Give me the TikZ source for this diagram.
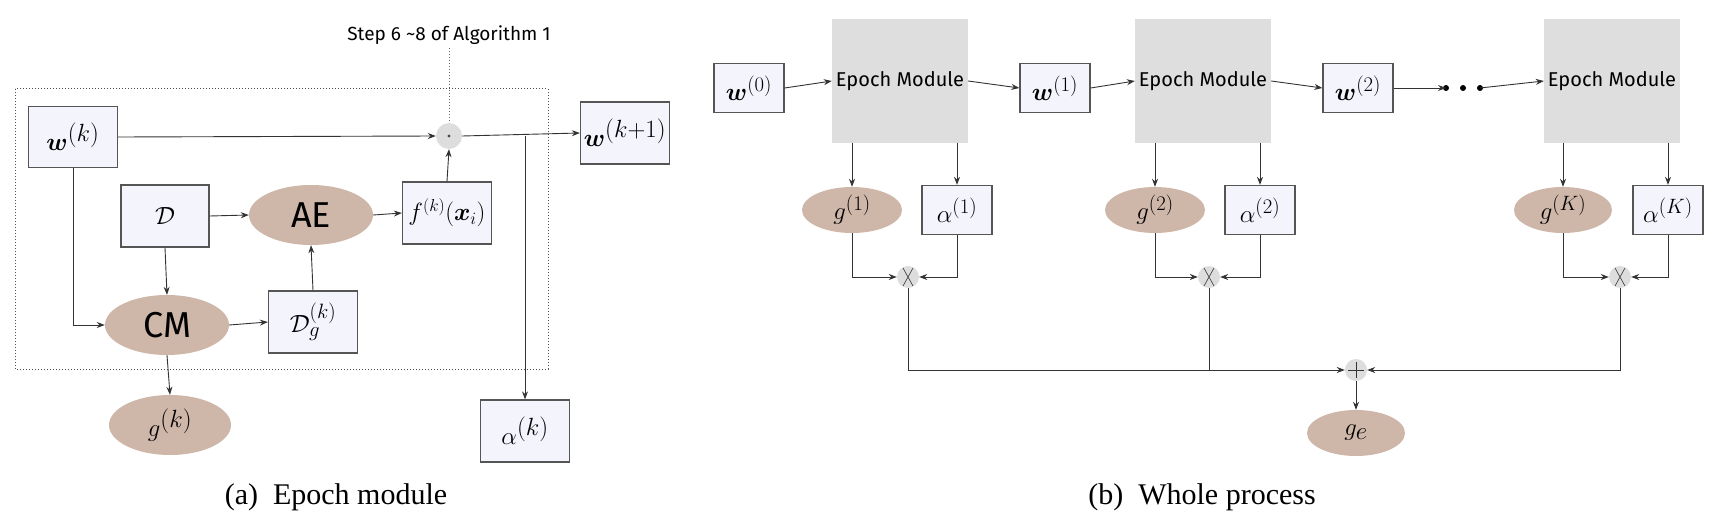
\documentclass[tikz,border=0pt]{standalone}
\usepackage{fontspec}
\usepackage{amsmath,bm}
\setmainfont{Liberation Serif}
\newfontfamily\firasans{Fira Sans}
\usetikzlibrary{arrows.meta,shapes.geometric}
\definecolor{boxfill}{HTML}{F3F4FC}
\definecolor{boxline}{HTML}{555555}
\definecolor{ellfill}{HTML}{CEB6A9}
\definecolor{emfill}{HTML}{DEDEDE}
\definecolor{opfill}{HTML}{DDDDDD}
\newcommand{\mfs}[1]{\fontsize{#1}{#1}\selectfont}
\begin{document}
\begin{tikzpicture}[x=1pt,y=-1pt,
  bx/.style={draw=boxline,line width=1.3pt,fill=boxfill,inner sep=0pt,anchor=center},
  el/.style={ellipse,fill=ellfill,inner sep=0pt},
  em/.style={fill=emfill,minimum width=136pt,minimum height=123pt,inner sep=0pt,font=\firasans\mfs{20}},
  op/.style={circle,fill=opfill,minimum size=24pt,inner sep=0pt},
  arr/.style={draw=black!80,line width=0.9pt,-{Stealth[length=8pt,width=6pt]}},
  ln/.style={draw=black!80,line width=0.9pt},
  captxt/.style={font=\mfs{30}}]
\useasboundingbox (0,0) rectangle (1717,519);
% ---------- (a) ----------
\draw[dotted,line width=1pt,black!70] (15,89) rectangle (548,369);
\node[bx,minimum width=89pt,minimum height=61pt,font=\mfs{38}] (wk) at (73,137) {$\bm{w}^{(k)}$};
\node[op,minimum size=26pt] (dot) at (449,136) {};
\fill[black!70] (dot.center) circle (1.6pt);
\node[font=\firasans\mfs{19}] (step) at (449,35) {Step 6 \textasciitilde8 of Algorithm 1};
\draw[dotted,line width=1pt,black!60] (step.south) -- (dot.north);
\node[bx,minimum width=88pt,minimum height=62pt,font=\mfs{36}] (D) at (165,216) {$\mathcal{D}$};
\node[el,minimum width=124pt,minimum height=60pt,font=\firasans\mfs{36}] (AE) at (311,215) {AE};
\node[bx,minimum width=89pt,minimum height=62pt,font=\mfs{27}] (f) at (447,213) {$f^{(k)}(\bm{x}_i)$};
\node[el,minimum width=124pt,minimum height=60pt,font=\firasans\mfs{36}] (CM) at (167,325) {CM};
\node[bx,minimum width=89pt,minimum height=62pt,font=\mfs{30}] (Dg) at (313,322) {$\mathcal{D}_g^{(k)}$};
\node[el,minimum width=122pt,minimum height=60pt,font=\mfs{38}] (gk) at (170,425) {$g^{(k)}$};
\node[bx,minimum width=89pt,minimum height=62pt,font=\mfs{38}] (ak) at (525,431) {$\alpha^{(k)}$};
\node[bx,minimum width=89pt,minimum height=62pt,font=\mfs{38}] (wk1) at (625,133) {$\bm{w}^{(k+1)}$};
\coordinate (split) at (525,136);
\draw[arr] (wk.east) -- (dot.west);
\draw[arr] (wk.south) |- (CM.west);
\draw[arr] (D.east) -- (AE.west);
\draw[arr] (D.south) -- (CM.north);
\draw[arr] (Dg.north) -- (AE.south);
\draw[arr] (CM.east) -- (Dg.west);
\draw[arr] (AE.east) -- (f.west);
\draw[arr] (f.north) -- (dot.south);
\draw[arr] (dot.east) -- (wk1.west);
\draw[arr] (split) -- (ak.north);
\draw[arr] (CM.south) -- (gk.north);
\node[captxt] (capa) at (336,497) {(a)\ \ Epoch module};
% ---------- (b) ----------
\node[bx,minimum width=70pt,minimum height=49pt,font=\mfs{32}] (w0) at (749,88) {$\bm{w}^{(0)}$};
\node[em] (em1) at (900,81) {Epoch Module};
\node[bx,minimum width=70pt,minimum height=49pt,font=\mfs{32}] (w1) at (1055,88) {$\bm{w}^{(1)}$};
\node[em] (em2) at (1203,81) {Epoch Module};
\node[bx,minimum width=70pt,minimum height=49pt,font=\mfs{32}] (w2) at (1358,88) {$\bm{w}^{(2)}$};
\node[em] (em3) at (1612,81) {Epoch Module};
\foreach \i/\x in {1/1446,2/1463,3/1480}{\fill (\x,88) circle (3pt) coordinate (d\i);}
\node[el,minimum width=100pt,minimum height=46pt,font=\mfs{32}] (g1) at (852,210) {$g^{(1)}$};
\node[bx,minimum width=70pt,minimum height=49pt,font=\mfs{32}] (a1) at (957,210) {$\alpha^{(1)}$};
\node[el,minimum width=100pt,minimum height=46pt,font=\mfs{32}] (g2) at (1155,210) {$g^{(2)}$};
\node[bx,minimum width=70pt,minimum height=49pt,font=\mfs{32}] (a2) at (1260,210) {$\alpha^{(2)}$};
\node[el,minimum width=98pt,minimum height=46pt,font=\mfs{32}] (gK) at (1563,210) {$g^{(K)}$};
\node[bx,minimum width=70pt,minimum height=49pt,font=\mfs{32}] (aK) at (1668,210) {$\alpha^{(K)}$};
\foreach \n/\x in {x1/908,x2/1209,xK/1620}{
  \node[op,minimum size=22pt] (\n) at (\x,277) {};
  \draw[black!80,line width=0.6pt] ([shift={(-5,-9)}]\n.center) -- ([shift={(5,9)}]\n.center)
        ([shift={(5,-9)}]\n.center) -- ([shift={(-5,9)}]\n.center);}
\node[op,minimum size=22pt] (plus) at (1356,370) {};
\draw[black!80,line width=0.6pt] ([xshift=-8]plus.center) -- ([xshift=8]plus.center)
      ([yshift=-8]plus.center) -- ([yshift=8]plus.center);
\node[el,minimum width=98pt,minimum height=46pt,font=\mfs{34}] (ge) at (1356,433) {$g_e$};
\draw[arr] (w0.east) -- (em1.west);
\draw[arr] (em1.east) -- (w1.west);
\draw[arr] (w1.east) -- (em2.west);
\draw[arr] (em2.east) -- (w2.west);
\draw[arr] (w2.east) -- (d1);
\draw[arr] (d3) -- (em3.west);
\foreach \e/\g/\a/\x in {em1/g1/a1/x1,em2/g2/a2/x2,em3/gK/aK/xK}{
  \draw[arr] (\g |- \e.south) -- (\g.north);
  \draw[arr] (\a |- \e.south) -- (\a.north);
  \draw[arr] (\g.south) |- (\x.west);
  \draw[arr] (\a.south) |- (\x.east);}
\draw[arr] (x1.south) |- (plus.west);
\draw[ln] (x2.south) -- (x2 |- plus);
\draw[arr] (xK.south) |- (plus.east);
\draw[arr] (plus.south) -- (ge.north);
\node[captxt] (capb) at (1202,497) {(b)\ \ Whole process};
\end{tikzpicture}
\end{document}
